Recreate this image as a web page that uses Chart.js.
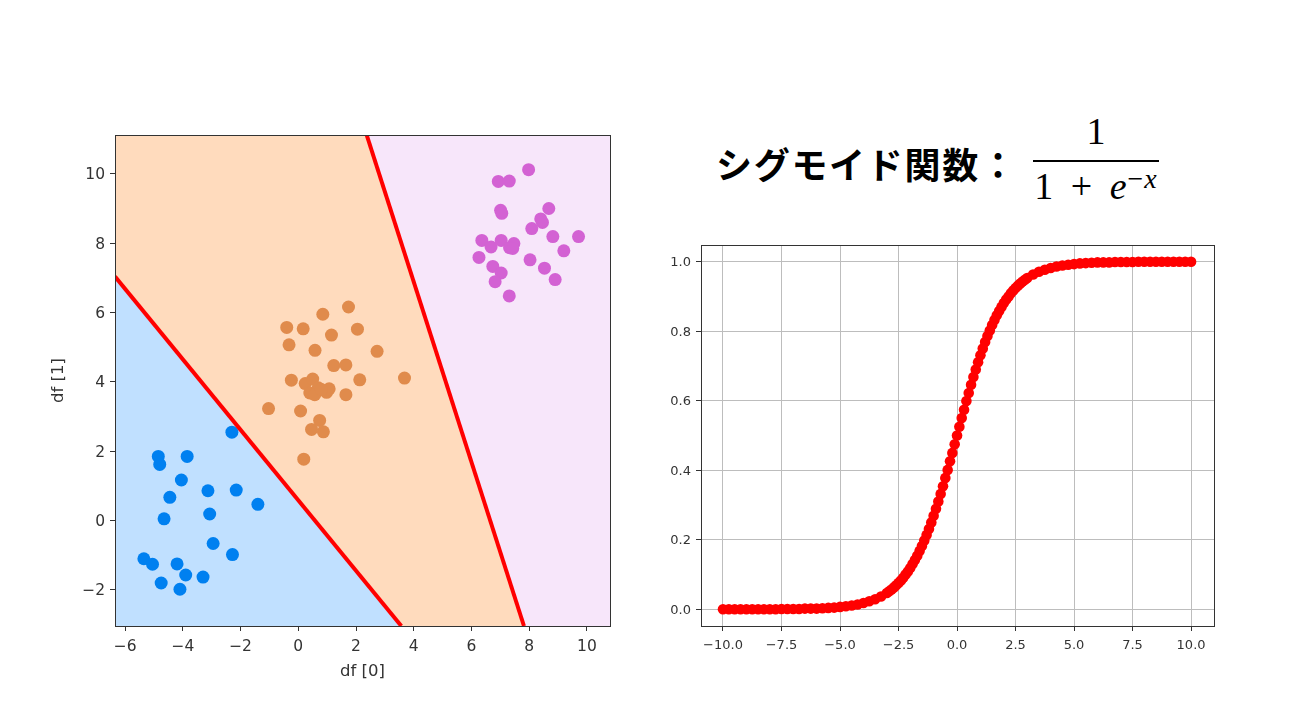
<!DOCTYPE html>
<html lang="ja">
<head>
<meta charset="utf-8">
<title>シグモイド関数</title>
<script src="https://cdn.jsdelivr.net/npm/chart.js@4/dist/chart.umd.min.js"></script>
<style>
  html, body { margin: 0; padding: 0; background: #fff; width: 1297px; height: 725px; overflow: hidden; }
  canvas { position: absolute; }
  #left-canvas { left: 40px; top: 120px; }
  #right-canvas { left: 650px; top: 230px; }
  .heading { position: absolute; left: 716px; top: 137px; font: 700 36px "Noto Sans CJK JP", sans-serif; letter-spacing: 1.7px; line-height: 52px; white-space: nowrap; color: #000; }
  .frac { position: absolute; color: #000; font-family: "Liberation Serif", serif; font-size: 38px; line-height: 44px; text-align: center; left: 1033px; width: 126px; white-space: nowrap; }
  .frac i { font-style: italic; }
  .frac sup { font-size: 28px; line-height: 0; position: relative; top: 3px; vertical-align: super; letter-spacing: 1px; }
  #num { top: 109px; }
  #den { top: 164px; word-spacing: 6px; letter-spacing: 1px; }
  #bar { position: absolute; left: 1033px; top: 160px; width: 126px; height: 2px; background: #000; }
</style>
</head>
<body>
<canvas id="left-canvas" width="600" height="570"></canvas>
<canvas id="right-canvas" width="590" height="440"></canvas>
<div class="heading">シグモイド関数：</div>
<div class="frac" id="num">1</div>
<div id="bar"></div>
<div class="frac" id="den">1 + <i>e</i><sup>−<i>x</i></sup></div>
<script>
// Classifier regions, left panel
const blueX = [-2.3, -4.85, -4.8, -3.85, -4.05, -3.13, -2.15, -4.45, -1.4, -3.07, -4.65, -2.95, -2.28, -5.35, -5.05, -4.2, -3.9, -3.3, -4.75, -4.1];
const blueY = [2.55, 1.85, 1.62, 1.85, 1.17, 0.86, 0.88, 0.67, 0.47, 0.19, 0.05, -0.66, -0.98, -1.1, -1.26, -1.25, -1.57, -1.63, -1.8, -1.98];

const orangeX = [1.74, 0.85, -0.4, 0.17, 1.15, 2.05, -0.32, 0.58, 2.73, 1.23, 1.65, -0.24, 2.13, 3.68, 0.24, 0.5, 0.69, 0.4, 0.57, 0.98, 1.07, 0.8, 1.65, -1.03, 0.08, 0.74, 0.46, 0.87, 0.19];
const orangeY = [6.16, 5.95, 5.57, 5.53, 5.35, 5.52, 5.07, 4.91, 4.88, 4.47, 4.49, 4.05, 4.06, 4.11, 3.95, 4.08, 3.83, 3.68, 3.63, 3.7, 3.8, 3.78, 3.63, 3.23, 3.16, 2.89, 2.63, 2.56, 1.77];

const purpleX = [7.98, 6.93, 7.31, 7.01, 7.05, 8.68, 8.4, 8.46, 8.09, 8.82, 9.71, 6.36, 7.03, 6.68, 7.47, 7.32, 7.43, 9.2, 6.26, 8.03, 6.74, 8.53, 7.03, 8.9, 6.82, 7.31];
const purpleY = [10.12, 9.78, 9.79, 8.95, 8.86, 9.0, 8.7, 8.6, 8.42, 8.19, 8.19, 8.08, 8.08, 7.89, 7.99, 7.87, 7.85, 7.78, 7.59, 7.52, 7.33, 7.28, 7.14, 6.95, 6.89, 6.48];

const leftXRange = [-6.35, 10.8];
const leftYRange = [-3.04, 11.12];
const boundary1X = [-6.35, 3.57];
const boundary1Y = [7.04, -3.04];
const boundary2X = [2.37, 7.82];
const boundary2Y = [11.12, -3.04];

// Sigmoid curve, right panel
const sigmoidX = [-10, -9.75, -9.5, -9.25, -9, -8.75, -8.5, -8.25, -8, -7.75, -7.5, -7.25, -7, -6.75, -6.5, -6.25, -6, -5.75, -5.5, -5.25, -5, -4.75, -4.5, -4.25, -4, -3.75, -3.5, -3.25,
  -3, -2.9, -2.8, -2.7, -2.6, -2.5, -2.4, -2.3, -2.2, -2.1, -2, -1.9, -1.8, -1.7, -1.6, -1.5, -1.4, -1.3, -1.2, -1.1, -1, -0.9, -0.8, -0.7, -0.6, -0.5, -0.4, -0.3, -0.2, -0.1,
  0, 0.1, 0.2, 0.3, 0.4, 0.5, 0.6, 0.7, 0.8, 0.9, 1, 1.1, 1.2, 1.3, 1.4, 1.5, 1.6, 1.7, 1.8, 1.9, 2, 2.1, 2.2, 2.3, 2.4, 2.5, 2.6, 2.7, 2.8, 2.9,
  3, 3.25, 3.5, 3.75, 4, 4.25, 4.5, 4.75, 5, 5.25, 5.5, 5.75, 6, 6.25, 6.5, 6.75, 7, 7.25, 7.5, 7.75, 8, 8.25, 8.5, 8.75, 9, 9.25, 9.5, 9.75, 10];
const sigmoidY = [0, 0, 0, 0, 0, 0, 0, 0, 0, 0, 0.001, 0.001, 0.001, 0.001, 0.002, 0.002, 0.002, 0.003, 0.004, 0.005, 0.007, 0.009, 0.011, 0.014, 0.018, 0.023, 0.029, 0.037,
  0.047, 0.052, 0.057, 0.063, 0.069, 0.076, 0.083, 0.091, 0.1, 0.109, 0.119, 0.13, 0.142, 0.154, 0.168, 0.182, 0.198, 0.214, 0.231, 0.25, 0.269, 0.289, 0.31, 0.332, 0.354, 0.378, 0.401, 0.426, 0.45, 0.475,
  0.5, 0.525, 0.55, 0.574, 0.599, 0.622, 0.646, 0.668, 0.69, 0.711, 0.731, 0.75, 0.769, 0.786, 0.802, 0.818, 0.832, 0.846, 0.858, 0.87, 0.881, 0.891, 0.9, 0.909, 0.917, 0.924, 0.931, 0.937, 0.943, 0.948,
  0.953, 0.963, 0.971, 0.977, 0.982, 0.986, 0.989, 0.991, 0.993, 0.995, 0.996, 0.997, 0.998, 0.998, 0.998, 0.999, 0.999, 0.999, 0.999, 1, 1, 1, 1, 1, 1, 1, 1, 1, 1];

const rightXRange = [-10.94, 10.98];
const rightYRange = [-0.048, 1.048];

const INK = '#333333';
const FONT = "'DejaVu Sans', sans-serif";
const toPoints = (xs, ys) => xs.map((x, i) => ({ x, y: ys[i] }));
const minusTick = (v, digits) => {
  const s = digits ? v.toFixed(digits) : String(v);
  return s.replace('-', '\u2212');
};

// Box round the plot area, matplotlib style
const frame = {
  id: 'frame',
  afterDraw(chart) {
    const { ctx, chartArea: a } = chart;
    ctx.save();
    ctx.strokeStyle = INK;
    ctx.lineWidth = 1;
    ctx.strokeRect(Math.round(a.left) + 0.5, Math.round(a.top) + 0.5, Math.round(a.width), Math.round(a.height));
    ctx.restore();
  },
};

function regionDataset(xs, ys, color, fill, order) {
  return { data: toPoints(xs, ys), showLine: true, fill, backgroundColor: color, borderWidth: 0, pointRadius: 0, order };
}
function pointsDataset(xs, ys, color) {
  return { data: toPoints(xs, ys), backgroundColor: color, pointRadius: 6.5, borderWidth: 0, order: 2 };
}
function lineDataset(xs, ys) {
  return { data: toPoints(xs, ys), showLine: true, borderColor: '#ff0000', borderWidth: 4, pointRadius: 0, order: 1 };
}

new Chart(document.getElementById('left-canvas'), {
  type: 'scatter',
  data: {
    datasets: [
      regionDataset(leftXRange, [leftYRange[0], leftYRange[0]], '#ffdbbd', 'end', 5),
      regionDataset(boundary1X, boundary1Y, '#c0e0ff', 'start', 4),
      regionDataset([...boundary2X, leftXRange[1]], [...boundary2Y, leftYRange[0]], '#f7e6fa', 'end', 3),
      lineDataset(boundary1X, boundary1Y),
      lineDataset(boundary2X, boundary2Y),
      pointsDataset(blueX, blueY, '#0080f0'),
      pointsDataset(orangeX, orangeY, '#e08b4c'),
      pointsDataset(purpleX, purpleY, '#d362d3'),
    ],
  },
  options: {
    responsive: false,
    animation: false,
    devicePixelRatio: 1,
    layout: { padding: { top: 15, right: 30 } },
    plugins: { legend: { display: false }, tooltip: { enabled: false } },
    scales: {
      x: {
        min: leftXRange[0],
        max: leftXRange[1],
        afterFit: (s) => { s.height = 64; },
        border: { display: false },
        grid: { drawOnChartArea: false, tickLength: 5, tickColor: INK },
        ticks: { stepSize: 2, includeBounds: false, maxRotation: 0, color: INK, font: { family: FONT, size: 15.5 }, padding: 7, callback: (v) => minusTick(v) },
        title: { display: true, text: 'df [0]', color: INK, font: { family: FONT, size: 16.5 }, padding: { top: 0, bottom: 8 } },
      },
      y: {
        min: leftYRange[0],
        max: leftYRange[1],
        afterFit: (s) => { s.width = 75; },
        border: { display: false },
        grid: { drawOnChartArea: false, tickLength: 5, tickColor: INK },
        ticks: { stepSize: 2, includeBounds: false, color: INK, font: { family: FONT, size: 15.5 }, padding: 5, labelOffset: 1.5, callback: (v) => minusTick(v) },
        title: { display: true, text: 'df [1]', color: INK, font: { family: FONT, size: 16.5 }, padding: { top: 9, bottom: 0 } },
      },
    },
  },
  plugins: [frame],
});

new Chart(document.getElementById('right-canvas'), {
  type: 'scatter',
  data: {
    datasets: [{ data: toPoints(sigmoidX, sigmoidY), backgroundColor: '#ff0000', pointRadius: 5.3, borderWidth: 0 }],
  },
  options: {
    responsive: false,
    animation: false,
    devicePixelRatio: 1,
    layout: { padding: { top: 15, right: 26 } },
    plugins: { legend: { display: false }, tooltip: { enabled: false } },
    scales: {
      x: {
        min: rightXRange[0],
        max: rightXRange[1],
        afterFit: (s) => { s.height = 44; },
        border: { display: false },
        grid: { color: '#bdbdbd', lineWidth: 1, tickLength: 5, tickColor: INK },
        ticks: { stepSize: 2.5, includeBounds: false, maxRotation: 0, color: INK, font: { family: FONT, size: 13 }, padding: 7, callback: (v) => minusTick(v, 1) },
      },
      y: {
        min: rightYRange[0],
        max: rightYRange[1],
        afterFit: (s) => { s.width = 51; },
        border: { display: false },
        grid: { color: '#bdbdbd', lineWidth: 1, tickLength: 5, tickColor: INK },
        ticks: { stepSize: 0.2, includeBounds: false, color: INK, font: { family: FONT, size: 13 }, padding: 5, labelOffset: 1, callback: (v) => minusTick(v, 1) },
      },
    },
  },
  plugins: [frame],
});
</script>
</body>
</html>
